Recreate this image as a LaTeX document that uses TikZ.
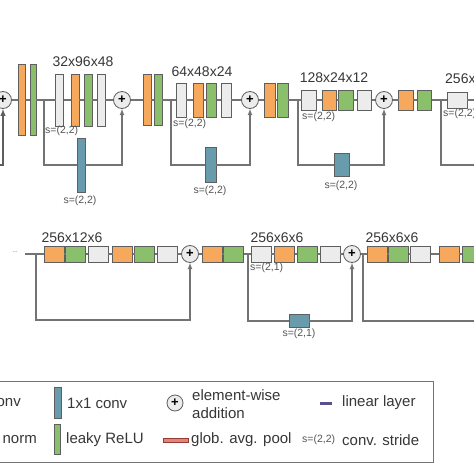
\documentclass[tikz,border=0pt]{standalone}
\usepackage{fontspec}
\setmainfont{Liberation Sans}
\usetikzlibrary{arrows}

\definecolor{bnorange}{RGB}{246,168,92}
\definecolor{relugreen}{RGB}{138,192,108}
\definecolor{convgray}{RGB}{236,236,236}
\definecolor{skipblue}{RGB}{104,156,172}
\definecolor{blkedge}{RGB}{95,95,95}
\definecolor{linegray}{RGB}{115,115,115}
\definecolor{txtgray}{RGB}{55,55,55}
\definecolor{poolfill}{RGB}{226,132,120}
\definecolor{pooledge}{RGB}{150,60,55}
\definecolor{linpurple}{RGB}{92,80,140}

\begin{document}
\begin{tikzpicture}[x=1pt,y=-1pt,
  blk/.style={draw=blkedge,line width=0.8pt,inner sep=0pt,outer sep=0pt},
  addnode/.style={circle,draw=blkedge,fill=convgray,line width=0.8pt,minimum size=17pt,inner sep=0pt,font=\fontsize{13}{13}\selectfont\bfseries},
  flow/.style={draw=linegray,line width=1.1pt},
  skip/.style={flow,-latex},
  dimlabel/.style={font=\fontsize{14}{14}\selectfont,text=txtgray,inner sep=0pt},
  stride/.style={font=\fontsize{10.5}{10.5}\selectfont,text=txtgray!85,inner sep=0pt},
  legtext/.style={font=\fontsize{15}{18}\selectfont,text=txtgray,inner sep=0pt,anchor=west}]
  \useasboundingbox (0,0) rectangle (474,474);
  \clip (0,0) rectangle (474,474);
  \fill[white] (0,0) rectangle (474,474);

  % ---- first row
  \node[addnode] (add0) at (3,100) {+};
  \node[blk,fill=bnorange,minimum width=7pt,minimum height=71pt] (o1) at (21.5,100) {};
  \node[blk,fill=relugreen,minimum width=6pt,minimum height=71pt] (g1) at (33,100) {};
  \coordinate (b1) at (44,100);
  \foreach \n/\x/\c in {w1/59.5/convgray,o2/75/bnorange,g2/88/relugreen,w2/101/convgray}
    \node[blk,fill=\c,minimum width=8pt,minimum height=52pt] (\n) at (\x,100) {};
  \node[addnode] (add1) at (122,100) {+};
  \node[blk,fill=skipblue,minimum width=8pt,minimum height=54pt] (c1) at (81,165) {};
  \foreach \n/\x/\c in {o3/147/bnorange,g3/158/relugreen}
    \node[blk,fill=\c,minimum width=8pt,minimum height=51pt] (\n) at (\x,100) {};
  \coordinate (b2) at (171,100);
  \foreach \n/\x/\c in {w3/181/convgray,o4/198/bnorange,g4/211.5/relugreen,w4/226/convgray}
    \node[blk,fill=\c,minimum width=10pt,minimum height=34pt] (\n) at (\x,100) {};
  \node[addnode] (add2) at (250,100) {+};
  \node[blk,fill=skipblue,minimum width=11pt,minimum height=35pt] (c2) at (210.5,165) {};
  \foreach \n/\x/\c in {o5/269.5/bnorange,g5/282.5/relugreen}
    \node[blk,fill=\c,minimum width=11pt,minimum height=34pt] (\n) at (\x,100) {};
  \coordinate (b3) at (298,100);
  \foreach \n/\x/\c in {w5/309/convgray,o6/329.5/bnorange,g6/346/relugreen,w6/364.5/convgray}
    \node[blk,fill=\c,minimum width=14.5pt,minimum height=20pt] (\n) at (\x,100) {};
  \node[addnode] (add3) at (384,100) {+};
  \node[blk,fill=skipblue,minimum width=15pt,minimum height=23pt] (c3) at (341.5,165) {};
  \foreach \n/\x/\c in {o7/406/bnorange,g7/424.5/relugreen}
    \node[blk,fill=\c,minimum width=14.5pt,minimum height=20pt] (\n) at (\x,100) {};
  \coordinate (b4) at (441,100);
  \node[blk,fill=convgray,minimum width=20pt,minimum height=16pt] (w7) at (457,100) {};
  \coordinate (r1) at (490,100);
  \coordinate (e4) at (490,165);
  \coordinate (in0) at (-20,165);

  \draw[flow] (add0) -- (o1) -- (g1) -- (b1) -- (w1) -- (o2) -- (g2) -- (w2) -- (add1) -- (o3) -- (g3) -- (b2) -- (w3) -- (o4) -- (g4) -- (w4) -- (add2)
    -- (o5) -- (g5) -- (b3) -- (w5) -- (o6) -- (g6) -- (w6) -- (add3) -- (o7) -- (g7) -- (b4) -- (w7) -- (r1);
  \draw[skip,line width=1.4pt,draw=blkedge] (in0) -| (add0);
  \draw[skip] (b1) |- (c1) -| (add1);
  \draw[skip] (b2) |- (c2) -| (add2);
  \draw[skip] (b3) |- (c3) -| (add3);
  \draw[flow] (b4) |- (e4);

  \node[dimlabel] at (83,62) {32x96x48};
  \node[dimlabel] at (202,72) {64x48x24};
  \node[dimlabel] at (334,78) {128x24x12};
  \node[dimlabel,anchor=west] at (445,79) {256x12x6};
  \node[stride,anchor=west] at (45,131) {s=(2,2)};
  \node[stride,anchor=west] at (173,124) {s=(2,2)};
  \node[stride,anchor=west] at (302,117) {s=(2,2)};
  \node[stride,anchor=west] at (443,114) {s=(2,2)};
  \node[stride] at (80,201) {s=(2,2)};
  \node[stride] at (210,191) {s=(2,2)};
  \node[stride] at (341,186) {s=(2,2)};

  % ---- second row
  \node[font=\fontsize{8}{8}\selectfont,text=linegray] (dots) at (15,252) {..};
  \coordinate (s2) at (25,254);
  \coordinate (b5) at (36,254);
  \foreach \n/\x/\c in {o8/54/bnorange,g8/75.5/relugreen,w8/98/convgray,o9/122.5/bnorange,g9/144.5/relugreen,w9/167/convgray,
                        o10/212/bnorange,g10/233.5/relugreen,w10/261/convgray,o11/284.5/bnorange,g11/307/relugreen,w11/330/convgray,
                        o12/377/bnorange,g12/398.5/relugreen,w12/420.5/convgray,o13/449/bnorange,g13/472/relugreen}
    \node[blk,fill=\c,minimum width=20pt,minimum height=16pt] (\n) at (\x,254) {};
  \node[addnode] (add4) at (190,254) {+};
  \coordinate (b6) at (248,254);
  \node[addnode] (add5) at (352,254) {+};
  \coordinate (b7) at (363,254);
  \coordinate (r2) at (490,254);
  \coordinate (k5) at (36,320);
  \node[blk,fill=skipblue,minimum width=20pt,minimum height=13pt] (c4) at (299,321) {};
  \coordinate (e7) at (490,321);

  \draw[flow] (s2) -- (b5) -- (o8) -- (g8) -- (w8) -- (o9) -- (g9) -- (w9) -- (add4) -- (o10) -- (g10) -- (b6) -- (w10) -- (o11) -- (g11) -- (w11) -- (add5)
    -- (b7) -- (o12) -- (g12) -- (w12) -- (o13) -- (g13) -- (r2);
  \draw[skip] (b5) -- (k5) -| (add4);
  \draw[skip] (b6) |- (c4) -| (add5);
  \draw[flow] (b7) |- (e7);

  \node[dimlabel] at (72,238) {256x12x6};
  \node[dimlabel] at (277,238) {256x6x6};
  \node[dimlabel] at (392,238) {256x6x6};
  \node[stride,anchor=west] at (250,268) {s=(2,1)};
  \node[stride] at (299,334) {s=(2,1)};

  % ---- legend
  \draw[draw=linegray,line width=0.8pt] (-5,381) rectangle (433,462);
  \node[legtext,anchor=east] (lconv) at (21,403) {conv};
  \node[legtext,anchor=east] (lbn) at (37,440) {norm};
  \node[blk,fill=skipblue,minimum width=7pt,minimum height=31pt] (lc) at (57.5,402.5) {};
  \node[legtext] (lct) at (67,403) {1x1 conv};
  \node[blk,fill=relugreen,minimum width=6pt,minimum height=30pt] (lg) at (57,439) {};
  \node[legtext] (lgt) at (66,440) {leaky ReLU};
  \node[addnode,minimum size=16pt] (ladd) at (175,403) {+};
  \node[legtext,align=left] (laddt) at (192,404) {element-wise\\addition};
  \node[draw=pooledge,fill=poolfill,line width=0.8pt,minimum width=25pt,minimum height=4pt,inner sep=0pt] (lpool) at (175.5,440) {};
  \node[legtext] (lpoolt) at (191,440) {glob. avg. pool};
  \node[fill=linpurple,minimum width=12pt,minimum height=3.5pt,inner sep=0pt] (llin) at (326,403.5) {};
  \node[legtext] (llint) at (342,403) {linear layer};
  \node[stride,anchor=west] (lstr) at (302,440) {s=(2,2)};
  \node[legtext] (lstrt) at (342,440) {conv. stride};
\end{tikzpicture}
\end{document}
